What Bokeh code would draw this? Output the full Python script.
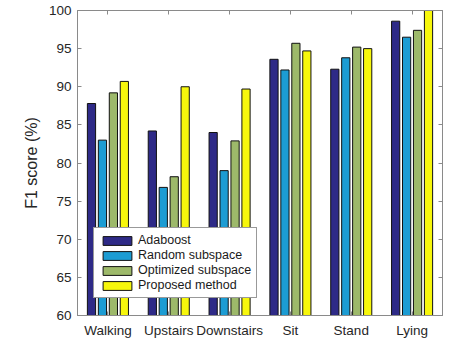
from bokeh.plotting import figure
from bokeh.models import (ColumnDataSource, FactorRange, Range1d, CategoricalAxis,
                          LinearAxis, FixedTicker, Legend)
from bokeh.transform import dodge
from bokeh.embed import file_html
from bokeh.resources import INLINE

activities = ["Walking", "Upstairs", "Downstairs", "Sit", "Stand", "Lying"]
adaboost = [87.8, 84.2, 84.0, 93.6, 92.3, 98.6]
random_subspace = [83.0, 76.8, 79.0, 92.2, 93.8, 96.5]
optimized_subspace = [89.2, 78.2, 82.9, 95.7, 95.2, 97.4]
proposed_method = [90.7, 90.0, 89.7, 94.7, 95.0, 100.0]
series_names = ["Adaboost", "Random subspace", "Optimized subspace", "Proposed method"]
y_ticks = [60, 65, 70, 75, 80, 85, 90, 95, 100]

colors = ["#2E2A87", "#1C9CD3", "#9DB96A", "#F7F70C"]
FONT = "Liberation Sans"

source = ColumnDataSource(dict(
    act=activities, s0=adaboost, s1=random_subspace,
    s2=optimized_subspace, s3=proposed_method))

p = figure(width=458, height=348, x_range=FactorRange(factors=activities, range_padding=0),
           y_range=Range1d(60, 100), output_backend="svg", toolbar_location=None,
           min_border_left=77, min_border_right=16, min_border_top=10, min_border_bottom=33)
p.background_fill_color = "white"
p.border_fill_color = "white"
p.outline_line_color = "#8a8a8a"
p.xgrid.grid_line_color = None
p.ygrid.grid_line_color = None

offsets = [-0.27, -0.09, 0.09, 0.27]
keys = ["s0", "s1", "s2", "s3"]
renderers = []
for k, off, c in zip(keys, offsets, colors):
    r = p.vbar(x=dodge("act", off, range=p.x_range), top=k, width=0.135, source=source,
               fill_color=c, line_color="#111111", line_width=1)
    renderers.append(r)

axis_col = "#8a8a8a"
lab_col = "#262626"

# left axis
ya = p.yaxis[0]
ya.ticker = FixedTicker(ticks=y_ticks)
ya.axis_label = "F1 score (%)"
ya.axis_label_text_font = FONT
ya.axis_label_text_font_size = "16px"
ya.axis_label_text_font_style = "normal"
ya.axis_label_text_color = lab_col
ya.axis_label_standoff = 6
ya.major_label_text_font = FONT
ya.major_label_text_font_size = "13.5px"
ya.major_label_text_color = lab_col
ya.major_label_standoff = 6
ya.major_tick_in = 4
ya.major_tick_out = 0
ya.minor_tick_in = 0
ya.minor_tick_out = 0
ya.axis_line_color = axis_col
ya.major_tick_line_color = axis_col

# bottom axis
xa = p.xaxis[0]
xa.major_label_text_font = FONT
xa.major_label_text_font_size = "13.5px"
xa.major_label_text_color = lab_col
xa.major_label_standoff = 7
xa.major_tick_in = 4
xa.major_tick_out = 0
xa.axis_line_color = axis_col
xa.major_tick_line_color = axis_col

# top axis (ticks only)
ta = CategoricalAxis(major_label_text_font_size="0px", major_label_standoff=0,
                     major_tick_in=4, major_tick_out=0, axis_line_color=axis_col,
                     major_tick_line_color=axis_col, major_label_text_color=None)
p.add_layout(ta, "above")

# right axis (ticks only)
ra = LinearAxis(ticker=FixedTicker(ticks=y_ticks), major_label_text_font_size="0px",
                major_label_standoff=0, major_tick_in=4, major_tick_out=0,
                minor_tick_in=0, minor_tick_out=0, axis_line_color=axis_col,
                major_tick_line_color=axis_col, major_label_text_color=None)
p.add_layout(ra, "right")

legend = Legend(items=[(n, [r]) for n, r in zip(series_names, renderers)],
                location=(16, 17))
legend.label_text_font = FONT
legend.label_text_font_size = "12.5px"
legend.label_text_color = "#1a1a1a"
legend.glyph_width = 36
legend.glyph_height = 11
legend.label_height = 11
legend.label_standoff = 3
legend.spacing = 1
legend.padding = 5
legend.margin = 0
legend.border_line_color = "#333333"
legend.border_line_width = 1
legend.background_fill_color = "white"
legend.background_fill_alpha = 1
p.add_layout(legend, "center")

open("out.html", "w").write(file_html(p, INLINE))
